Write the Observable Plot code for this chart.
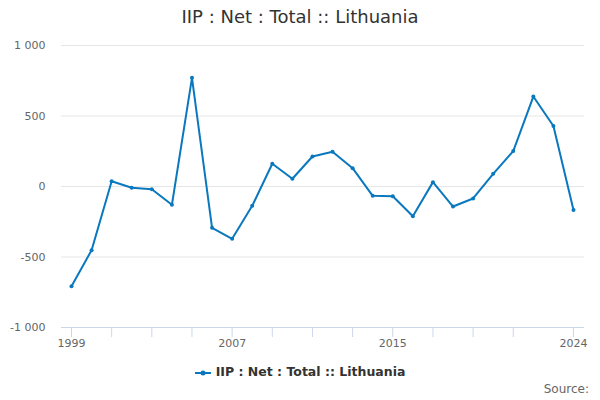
<!DOCTYPE html>
<html>
<head>
<meta charset="utf-8">
<script src="https://cdn.jsdelivr.net/npm/d3@7"></script>
<script src="https://cdn.jsdelivr.net/npm/@observablehq/plot@0.6"></script>
<style>
  html, body { margin: 0; padding: 0; background: #fff; }
  body { width: 600px; height: 400px; position: relative; overflow: hidden; font-family: "DejaVu Sans", sans-serif; }
  #title { position: absolute; top: 6px; left: 0; width: 600px; text-align: center; font-size: 18px; color: #333; }
  #chart { position: absolute; top: 35px; left: 0; }
  #legend { position: absolute; top: 364px; left: 0; width: 600px; text-align: center; font-size: 12.5px; font-weight: bold; color: #333; }
  #legend svg { vertical-align: middle; margin-right: 5px; }
  #source { position: absolute; top: 382px; right: 11px; font-size: 12px; color: #666; }
</style>
</head>
<body>
<div id="title">IIP : Net : Total :: Lithuania</div>
<div id="chart"></div>
<div id="legend"><svg width="16" height="10"><line x1="0" y1="5" x2="16" y2="5" stroke="#0a78be" stroke-width="2"/><circle cx="8" cy="5" r="2.5" fill="#0a78be"/></svg>IIP : Net : Total :: Lithuania</div>
<div id="source">Source:</div>
<script>
const seriesName = "IIP : Net : Total :: Lithuania";
const years = [1999, 2000, 2001, 2002, 2003, 2004, 2005, 2006, 2007, 2008, 2009, 2010, 2011, 2012, 2013, 2014, 2015, 2016, 2017, 2018, 2019, 2020, 2021, 2022, 2023, 2024];
const values = [-707, -452, 37, -9, -19, -130, 771, -293, -371, -137, 161, 55, 213, 247, 130, -66, -69, -211, 31, -142, -85, 90, 251, 638, 429, -166];
const yTicks = [-1000, -500, 0, 500, 1000];
const xTicks = [1999, 2001, 2003, 2005, 2007, 2009, 2011, 2013, 2015, 2017, 2019, 2021, 2024];
const xLabels = [1999, 2007, 2015, 2024];

const color = "#0a78be";
const data = years.map((y, i) => ({year: y, value: values[i]}));
const fmt = d3.formatLocale({decimal: ".", thousands: " ", grouping: [3], currency: ["", ""], minus: "-"}).format(",d");

const chart = Plot.plot({
  width: 600,
  height: 320,
  marginTop: 10,
  marginBottom: 28,
  marginLeft: 61,
  marginRight: 16,
  style: {fontFamily: "DejaVu Sans, sans-serif", fontSize: "11px", color: "#666", background: "#fff"},
  x: {domain: [1999, 2024], insetLeft: 10, insetRight: 11},
  y: {domain: [-1000, 1000]},
  marks: [
    Plot.gridY(yTicks, {stroke: "#e6e6e6", strokeOpacity: 1}),
    Plot.axisY(yTicks, {tickSize: 0, tickPadding: 16, tickFormat: fmt, label: null, fill: "#666"}),
    Plot.ruleY([-1000], {stroke: "#ccd6eb"}),
    Plot.axisX(xTicks, {tickSize: 10, tickPadding: 2, stroke: "#ccd6eb", fill: "#666", label: null,
      tickFormat: d => xLabels.includes(d) ? String(d) : ""}),
    Plot.line(data, {x: "year", y: "value", stroke: color, strokeWidth: 2}),
    Plot.dot(data, {x: "year", y: "value", r: 2, fill: color, stroke: null})
  ]
});
document.getElementById("chart").appendChild(chart);
</script>
</body>
</html>
